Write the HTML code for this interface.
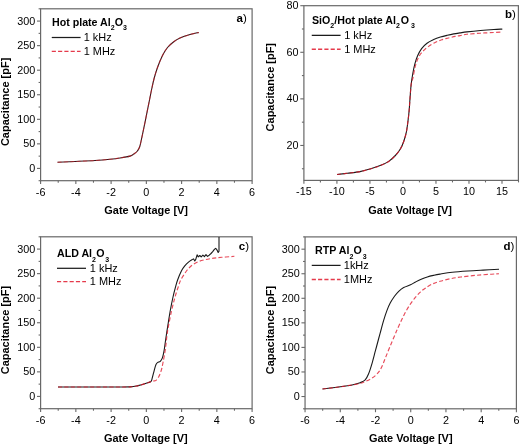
<!DOCTYPE html>
<html><head><meta charset="utf-8"><title>C-V curves</title>
<style>
html,body{margin:0;padding:0;background:#fff;}
svg{display:block;font-family:"Liberation Sans", sans-serif;fill:#000;}
</style></head><body>
<svg width="520" height="445" viewBox="0 0 520 445">
<rect width="520" height="445" fill="#fff"/>
<rect x="40.6" y="8.8" width="211.5" height="171.89999999999998" fill="none" stroke="#686868" stroke-width="1.2"/>
<line x1="40.60" y1="180.70" x2="40.60" y2="184.10" stroke="#686868" stroke-width="1.1"/>
<text x="40.60" y="195.70" font-size="10.8" text-anchor="middle">-6</text>
<line x1="75.85" y1="180.70" x2="75.85" y2="184.10" stroke="#686868" stroke-width="1.1"/>
<text x="75.85" y="195.70" font-size="10.8" text-anchor="middle">-4</text>
<line x1="111.10" y1="180.70" x2="111.10" y2="184.10" stroke="#686868" stroke-width="1.1"/>
<text x="111.10" y="195.70" font-size="10.8" text-anchor="middle">-2</text>
<line x1="146.35" y1="180.70" x2="146.35" y2="184.10" stroke="#686868" stroke-width="1.1"/>
<text x="146.35" y="195.70" font-size="10.8" text-anchor="middle">0</text>
<line x1="181.60" y1="180.70" x2="181.60" y2="184.10" stroke="#686868" stroke-width="1.1"/>
<text x="181.60" y="195.70" font-size="10.8" text-anchor="middle">2</text>
<line x1="216.85" y1="180.70" x2="216.85" y2="184.10" stroke="#686868" stroke-width="1.1"/>
<text x="216.85" y="195.70" font-size="10.8" text-anchor="middle">4</text>
<line x1="252.10" y1="180.70" x2="252.10" y2="184.10" stroke="#686868" stroke-width="1.1"/>
<text x="252.10" y="195.70" font-size="10.8" text-anchor="middle">6</text>
<line x1="58.22" y1="180.70" x2="58.22" y2="182.70" stroke="#686868" stroke-width="1.1"/>
<line x1="93.47" y1="180.70" x2="93.47" y2="182.70" stroke="#686868" stroke-width="1.1"/>
<line x1="128.72" y1="180.70" x2="128.72" y2="182.70" stroke="#686868" stroke-width="1.1"/>
<line x1="163.97" y1="180.70" x2="163.97" y2="182.70" stroke="#686868" stroke-width="1.1"/>
<line x1="199.22" y1="180.70" x2="199.22" y2="182.70" stroke="#686868" stroke-width="1.1"/>
<line x1="234.47" y1="180.70" x2="234.47" y2="182.70" stroke="#686868" stroke-width="1.1"/>
<line x1="37.00" y1="168.42" x2="40.60" y2="168.42" stroke="#686868" stroke-width="1.1"/>
<text x="35.20" y="171.92" font-size="10.8" text-anchor="end">0</text>
<line x1="37.00" y1="143.86" x2="40.60" y2="143.86" stroke="#686868" stroke-width="1.1"/>
<text x="35.20" y="147.36" font-size="10.8" text-anchor="end">50</text>
<line x1="37.00" y1="119.31" x2="40.60" y2="119.31" stroke="#686868" stroke-width="1.1"/>
<text x="35.20" y="122.81" font-size="10.8" text-anchor="end">100</text>
<line x1="37.00" y1="94.75" x2="40.60" y2="94.75" stroke="#686868" stroke-width="1.1"/>
<text x="35.20" y="98.25" font-size="10.8" text-anchor="end">150</text>
<line x1="37.00" y1="70.19" x2="40.60" y2="70.19" stroke="#686868" stroke-width="1.1"/>
<text x="35.20" y="73.69" font-size="10.8" text-anchor="end">200</text>
<line x1="37.00" y1="45.64" x2="40.60" y2="45.64" stroke="#686868" stroke-width="1.1"/>
<text x="35.20" y="49.14" font-size="10.8" text-anchor="end">250</text>
<line x1="37.00" y1="21.08" x2="40.60" y2="21.08" stroke="#686868" stroke-width="1.1"/>
<text x="35.20" y="24.58" font-size="10.8" text-anchor="end">300</text>
<line x1="38.60" y1="180.70" x2="40.60" y2="180.70" stroke="#686868" stroke-width="1.1"/>
<line x1="38.60" y1="156.14" x2="40.60" y2="156.14" stroke="#686868" stroke-width="1.1"/>
<line x1="38.60" y1="131.59" x2="40.60" y2="131.59" stroke="#686868" stroke-width="1.1"/>
<line x1="38.60" y1="107.03" x2="40.60" y2="107.03" stroke="#686868" stroke-width="1.1"/>
<line x1="38.60" y1="82.47" x2="40.60" y2="82.47" stroke="#686868" stroke-width="1.1"/>
<line x1="38.60" y1="57.91" x2="40.60" y2="57.91" stroke="#686868" stroke-width="1.1"/>
<line x1="38.60" y1="33.36" x2="40.60" y2="33.36" stroke="#686868" stroke-width="1.1"/>
<line x1="38.60" y1="8.80" x2="40.60" y2="8.80" stroke="#686868" stroke-width="1.1"/>
<text x="146.15" y="213.60" font-size="10.95" text-anchor="middle" font-weight="bold">Gate Voltage [V]</text>
<text transform="translate(9.2,101.9) rotate(-90)" font-size="10.98" font-weight="bold" text-anchor="middle">Capacitance [pF]</text>
<text x="236.60" y="21.60" font-size="11.5" text-anchor="start" font-weight="bold">a<tspan font-weight="normal">)</tspan></text>
<text x="52" y="26.1" font-size="10.65" font-weight="bold">Hot plate Al<tspan font-size="7" dy="4.3">2</tspan><tspan dy="-4.3">O</tspan><tspan font-size="7" dy="4.3">3</tspan></text>
<line x1="51.75" y1="37.50" x2="80.60" y2="37.50" stroke="#1c1c1c" stroke-width="1.25"/>
<line x1="51.75" y1="51.3" x2="80.6" y2="51.3" stroke="#e0182c" stroke-width="1.35" stroke-dasharray="4.15,2.15" stroke-opacity="0.85"/>
<text x="83.70" y="41.10" font-size="10.95" text-anchor="start">1 kHz</text>
<text x="83.70" y="54.90" font-size="10.95" text-anchor="start">1 MHz</text>
<path d="M57.50,162.25 C60.42,162.12 68.75,161.79 75.00,161.50 C81.25,161.21 89.17,160.88 95.00,160.50 C100.83,160.12 105.83,159.67 110.00,159.25 C114.17,158.83 116.67,158.53 120.00,158.00 C123.33,157.47 127.73,156.75 130.00,156.10 C132.27,155.45 132.43,154.87 133.60,154.10 C134.77,153.33 136.02,152.63 137.00,151.50 C137.98,150.37 138.80,149.13 139.50,147.30 C140.20,145.47 140.50,143.60 141.20,140.50 C141.90,137.40 142.72,133.47 143.70,128.70 C144.68,123.93 146.13,116.68 147.10,111.90 C148.07,107.12 148.73,103.82 149.50,100.00 C150.27,96.18 150.93,92.58 151.70,89.00 C152.47,85.42 153.13,82.08 154.10,78.50 C155.07,74.92 156.10,71.33 157.50,67.50 C158.90,63.67 160.83,58.83 162.50,55.50 C164.17,52.17 165.62,49.79 167.50,47.50 C169.38,45.21 171.67,43.33 173.75,41.75 C175.83,40.17 177.29,39.21 180.00,38.00 C182.71,36.79 186.88,35.42 190.00,34.50 C193.12,33.58 197.29,32.83 198.75,32.50" fill="none" stroke="#3a1418" stroke-width="1.1"/>
<path d="M57.50,162.25 C60.42,162.12 68.75,161.79 75.00,161.50 C81.25,161.21 89.17,160.88 95.00,160.50 C100.83,160.12 105.83,159.67 110.00,159.25 C114.17,158.83 116.67,158.53 120.00,158.00 C123.33,157.47 127.73,156.75 130.00,156.10 C132.27,155.45 132.43,154.87 133.60,154.10 C134.77,153.33 136.02,152.63 137.00,151.50 C137.98,150.37 138.80,149.13 139.50,147.30 C140.20,145.47 140.50,143.60 141.20,140.50 C141.90,137.40 142.72,133.47 143.70,128.70 C144.68,123.93 146.13,116.68 147.10,111.90 C148.07,107.12 148.73,103.82 149.50,100.00 C150.27,96.18 150.93,92.58 151.70,89.00 C152.47,85.42 153.13,82.08 154.10,78.50 C155.07,74.92 156.10,71.33 157.50,67.50 C158.90,63.67 160.83,58.83 162.50,55.50 C164.17,52.17 165.62,49.79 167.50,47.50 C169.38,45.21 171.67,43.33 173.75,41.75 C175.83,40.17 177.29,39.21 180.00,38.00 C182.71,36.79 186.88,35.42 190.00,34.50 C193.12,33.58 197.29,32.83 198.75,32.50" fill="none" stroke="#e0202a" stroke-width="1.1" stroke-dasharray="4.1,2.3" stroke-opacity="0.5"/>
<rect x="303.9" y="5.7" width="214.5" height="174.70000000000002" fill="none" stroke="#686868" stroke-width="1.2"/>
<line x1="303.90" y1="180.40" x2="303.90" y2="183.80" stroke="#686868" stroke-width="1.1"/>
<text x="303.90" y="195.40" font-size="10.8" text-anchor="middle">-15</text>
<line x1="336.92" y1="180.40" x2="336.92" y2="183.80" stroke="#686868" stroke-width="1.1"/>
<text x="336.92" y="195.40" font-size="10.8" text-anchor="middle">-10</text>
<line x1="369.93" y1="180.40" x2="369.93" y2="183.80" stroke="#686868" stroke-width="1.1"/>
<text x="369.93" y="195.40" font-size="10.8" text-anchor="middle">-5</text>
<line x1="402.95" y1="180.40" x2="402.95" y2="183.80" stroke="#686868" stroke-width="1.1"/>
<text x="402.95" y="195.40" font-size="10.8" text-anchor="middle">0</text>
<line x1="435.97" y1="180.40" x2="435.97" y2="183.80" stroke="#686868" stroke-width="1.1"/>
<text x="435.97" y="195.40" font-size="10.8" text-anchor="middle">5</text>
<line x1="468.98" y1="180.40" x2="468.98" y2="183.80" stroke="#686868" stroke-width="1.1"/>
<text x="468.98" y="195.40" font-size="10.8" text-anchor="middle">10</text>
<line x1="502.00" y1="180.40" x2="502.00" y2="183.80" stroke="#686868" stroke-width="1.1"/>
<text x="502.00" y="195.40" font-size="10.8" text-anchor="middle">15</text>
<line x1="320.41" y1="180.40" x2="320.41" y2="182.40" stroke="#686868" stroke-width="1.1"/>
<line x1="353.42" y1="180.40" x2="353.42" y2="182.40" stroke="#686868" stroke-width="1.1"/>
<line x1="386.44" y1="180.40" x2="386.44" y2="182.40" stroke="#686868" stroke-width="1.1"/>
<line x1="419.46" y1="180.40" x2="419.46" y2="182.40" stroke="#686868" stroke-width="1.1"/>
<line x1="452.48" y1="180.40" x2="452.48" y2="182.40" stroke="#686868" stroke-width="1.1"/>
<line x1="485.49" y1="180.40" x2="485.49" y2="182.40" stroke="#686868" stroke-width="1.1"/>
<line x1="518.51" y1="180.40" x2="518.51" y2="182.40" stroke="#686868" stroke-width="1.1"/>
<line x1="300.30" y1="145.46" x2="303.90" y2="145.46" stroke="#686868" stroke-width="1.1"/>
<text x="298.50" y="148.96" font-size="10.8" text-anchor="end">20</text>
<line x1="300.30" y1="98.87" x2="303.90" y2="98.87" stroke="#686868" stroke-width="1.1"/>
<text x="298.50" y="102.37" font-size="10.8" text-anchor="end">40</text>
<line x1="300.30" y1="52.29" x2="303.90" y2="52.29" stroke="#686868" stroke-width="1.1"/>
<text x="298.50" y="55.79" font-size="10.8" text-anchor="end">60</text>
<line x1="300.30" y1="5.70" x2="303.90" y2="5.70" stroke="#686868" stroke-width="1.1"/>
<text x="298.50" y="9.20" font-size="10.8" text-anchor="end">80</text>
<line x1="301.90" y1="168.75" x2="303.90" y2="168.75" stroke="#686868" stroke-width="1.1"/>
<line x1="301.90" y1="122.17" x2="303.90" y2="122.17" stroke="#686868" stroke-width="1.1"/>
<line x1="301.90" y1="75.58" x2="303.90" y2="75.58" stroke="#686868" stroke-width="1.1"/>
<line x1="301.90" y1="28.99" x2="303.90" y2="28.99" stroke="#686868" stroke-width="1.1"/>
<text x="410.15" y="213.60" font-size="10.95" text-anchor="middle" font-weight="bold">Gate Voltage [V]</text>
<text transform="translate(273.8,87.2) rotate(-90)" font-size="10.98" font-weight="bold" text-anchor="middle">Capacitance [pF]</text>
<text x="505.00" y="18.40" font-size="11.5" text-anchor="start" font-weight="bold">b<tspan font-weight="normal">)</tspan></text>
<text x="312" y="23.8" font-size="10.65" font-weight="bold">SiO<tspan font-size="7" dy="4.3">2</tspan><tspan dy="-4.3">/Hot plate Al</tspan><tspan font-size="7" dy="4.3">2</tspan><tspan dy="-4.3" dx="0.9">O</tspan><tspan font-size="7" dy="4.3" dx="1.9">3</tspan></text>
<line x1="311.75" y1="35.35" x2="340.60" y2="35.35" stroke="#1c1c1c" stroke-width="1.25"/>
<line x1="311.75" y1="49.2" x2="340.6" y2="49.2" stroke="#e0182c" stroke-width="1.35" stroke-dasharray="4.15,2.15" stroke-opacity="0.85"/>
<text x="344.20" y="38.95" font-size="10.95" text-anchor="start">1 kHz</text>
<text x="344.20" y="52.80" font-size="10.95" text-anchor="start">1 MHz</text>
<path d="M337.00,174.50 C338.75,174.29 343.67,173.73 347.50,173.25 C351.33,172.77 356.23,172.31 360.00,171.60 C363.77,170.89 366.73,170.00 370.10,169.00 C373.47,168.00 377.10,166.87 380.20,165.60 C383.30,164.33 386.17,163.08 388.70,161.40 C391.23,159.72 393.43,157.60 395.40,155.50 C397.37,153.40 399.10,151.18 400.50,148.80 C401.90,146.42 402.82,144.02 403.80,141.20 C404.78,138.38 405.68,135.42 406.40,131.90 C407.12,128.38 407.63,123.75 408.10,120.10 C408.57,116.45 408.90,113.35 409.20,110.00 C409.50,106.65 409.58,104.17 409.90,100.00 C410.22,95.83 410.62,89.42 411.10,85.00 C411.58,80.58 412.18,76.98 412.80,73.50 C413.42,70.02 414.02,67.02 414.80,64.10 C415.58,61.18 416.37,58.58 417.50,56.00 C418.63,53.42 420.02,50.73 421.60,48.60 C423.18,46.47 424.98,44.70 427.00,43.20 C429.02,41.70 431.47,40.62 433.70,39.60 C435.93,38.58 438.15,37.82 440.40,37.10 C442.65,36.38 444.98,35.83 447.20,35.30 C449.42,34.77 451.57,34.30 453.70,33.90 C455.83,33.50 457.80,33.23 460.00,32.90 C462.20,32.57 463.50,32.30 466.90,31.90 C470.30,31.50 475.92,30.90 480.40,30.50 C484.88,30.10 490.15,29.73 493.80,29.50 C497.45,29.27 500.88,29.17 502.30,29.10" fill="none" stroke="#1a1a1a" stroke-width="1.1"/>
<path d="M337.00,174.50 C338.75,174.29 343.67,173.73 347.50,173.25 C351.33,172.77 356.23,172.31 360.00,171.60 C363.77,170.89 366.73,170.00 370.10,169.00 C373.47,168.00 377.10,166.87 380.20,165.60 C383.30,164.33 386.17,163.08 388.70,161.40 C391.23,159.72 393.43,157.60 395.40,155.50 C397.37,153.40 399.10,151.18 400.50,148.80 C401.90,146.42 402.82,144.02 403.80,141.20 C404.78,138.38 405.68,135.42 406.40,131.90 C407.12,128.38 407.63,123.75 408.10,120.10 C408.57,116.45 408.90,113.35 409.20,110.00 C409.50,106.65 409.58,104.17 409.90,100.00 C410.22,95.83 410.60,88.67 411.10,85.00 C411.60,81.33 412.17,81.27 412.90,78.00 C413.63,74.73 414.50,68.95 415.50,65.40 C416.50,61.85 417.67,59.05 418.90,56.70 C420.13,54.35 421.33,52.98 422.90,51.30 C424.47,49.62 426.27,48.07 428.30,46.60 C430.33,45.13 432.85,43.63 435.10,42.50 C437.35,41.37 439.57,40.55 441.80,39.80 C444.03,39.05 446.25,38.57 448.50,38.00 C450.75,37.43 453.38,36.80 455.30,36.40 C457.22,36.00 458.07,35.95 460.00,35.60 C461.93,35.25 463.50,34.70 466.90,34.30 C470.30,33.90 475.92,33.50 480.40,33.20 C484.88,32.90 490.15,32.68 493.80,32.50 C497.45,32.32 500.88,32.17 502.30,32.10" fill="none" stroke="#e0182c" stroke-width="1.15" stroke-dasharray="4.1,2.3" stroke-opacity="0.78"/>
<rect x="40.6" y="236.8" width="211.5" height="171.89999999999998" fill="none" stroke="#686868" stroke-width="1.2"/>
<line x1="40.60" y1="408.70" x2="40.60" y2="412.10" stroke="#686868" stroke-width="1.1"/>
<text x="40.60" y="423.70" font-size="10.8" text-anchor="middle">-6</text>
<line x1="75.85" y1="408.70" x2="75.85" y2="412.10" stroke="#686868" stroke-width="1.1"/>
<text x="75.85" y="423.70" font-size="10.8" text-anchor="middle">-4</text>
<line x1="111.10" y1="408.70" x2="111.10" y2="412.10" stroke="#686868" stroke-width="1.1"/>
<text x="111.10" y="423.70" font-size="10.8" text-anchor="middle">-2</text>
<line x1="146.35" y1="408.70" x2="146.35" y2="412.10" stroke="#686868" stroke-width="1.1"/>
<text x="146.35" y="423.70" font-size="10.8" text-anchor="middle">0</text>
<line x1="181.60" y1="408.70" x2="181.60" y2="412.10" stroke="#686868" stroke-width="1.1"/>
<text x="181.60" y="423.70" font-size="10.8" text-anchor="middle">2</text>
<line x1="216.85" y1="408.70" x2="216.85" y2="412.10" stroke="#686868" stroke-width="1.1"/>
<text x="216.85" y="423.70" font-size="10.8" text-anchor="middle">4</text>
<line x1="252.10" y1="408.70" x2="252.10" y2="412.10" stroke="#686868" stroke-width="1.1"/>
<text x="252.10" y="423.70" font-size="10.8" text-anchor="middle">6</text>
<line x1="58.22" y1="408.70" x2="58.22" y2="410.70" stroke="#686868" stroke-width="1.1"/>
<line x1="93.47" y1="408.70" x2="93.47" y2="410.70" stroke="#686868" stroke-width="1.1"/>
<line x1="128.72" y1="408.70" x2="128.72" y2="410.70" stroke="#686868" stroke-width="1.1"/>
<line x1="163.97" y1="408.70" x2="163.97" y2="410.70" stroke="#686868" stroke-width="1.1"/>
<line x1="199.22" y1="408.70" x2="199.22" y2="410.70" stroke="#686868" stroke-width="1.1"/>
<line x1="234.47" y1="408.70" x2="234.47" y2="410.70" stroke="#686868" stroke-width="1.1"/>
<line x1="37.00" y1="396.42" x2="40.60" y2="396.42" stroke="#686868" stroke-width="1.1"/>
<text x="35.20" y="399.92" font-size="10.8" text-anchor="end">0</text>
<line x1="37.00" y1="371.86" x2="40.60" y2="371.86" stroke="#686868" stroke-width="1.1"/>
<text x="35.20" y="375.36" font-size="10.8" text-anchor="end">50</text>
<line x1="37.00" y1="347.31" x2="40.60" y2="347.31" stroke="#686868" stroke-width="1.1"/>
<text x="35.20" y="350.81" font-size="10.8" text-anchor="end">100</text>
<line x1="37.00" y1="322.75" x2="40.60" y2="322.75" stroke="#686868" stroke-width="1.1"/>
<text x="35.20" y="326.25" font-size="10.8" text-anchor="end">150</text>
<line x1="37.00" y1="298.19" x2="40.60" y2="298.19" stroke="#686868" stroke-width="1.1"/>
<text x="35.20" y="301.69" font-size="10.8" text-anchor="end">200</text>
<line x1="37.00" y1="273.64" x2="40.60" y2="273.64" stroke="#686868" stroke-width="1.1"/>
<text x="35.20" y="277.14" font-size="10.8" text-anchor="end">250</text>
<line x1="37.00" y1="249.08" x2="40.60" y2="249.08" stroke="#686868" stroke-width="1.1"/>
<text x="35.20" y="252.58" font-size="10.8" text-anchor="end">300</text>
<line x1="38.60" y1="408.70" x2="40.60" y2="408.70" stroke="#686868" stroke-width="1.1"/>
<line x1="38.60" y1="384.14" x2="40.60" y2="384.14" stroke="#686868" stroke-width="1.1"/>
<line x1="38.60" y1="359.59" x2="40.60" y2="359.59" stroke="#686868" stroke-width="1.1"/>
<line x1="38.60" y1="335.03" x2="40.60" y2="335.03" stroke="#686868" stroke-width="1.1"/>
<line x1="38.60" y1="310.47" x2="40.60" y2="310.47" stroke="#686868" stroke-width="1.1"/>
<line x1="38.60" y1="285.91" x2="40.60" y2="285.91" stroke="#686868" stroke-width="1.1"/>
<line x1="38.60" y1="261.36" x2="40.60" y2="261.36" stroke="#686868" stroke-width="1.1"/>
<line x1="38.60" y1="236.80" x2="40.60" y2="236.80" stroke="#686868" stroke-width="1.1"/>
<text x="145.85" y="441.60" font-size="10.95" text-anchor="middle" font-weight="bold">Gate Voltage [V]</text>
<text transform="translate(9.2,330.1) rotate(-90)" font-size="10.98" font-weight="bold" text-anchor="middle">Capacitance [pF]</text>
<text x="238.80" y="250.30" font-size="11.5" text-anchor="start" font-weight="bold">c<tspan font-weight="normal">)</tspan></text>
<text x="57" y="257.3" font-size="10.65" font-weight="bold">ALD Al<tspan font-size="7" dy="4.3">2</tspan><tspan dy="-4.3" dx="0.3">O</tspan><tspan font-size="7" dy="4.3" dx="0.8">3</tspan></text>
<line x1="57.00" y1="268.30" x2="86.00" y2="268.30" stroke="#1c1c1c" stroke-width="1.25"/>
<line x1="57" y1="281.6" x2="86" y2="281.6" stroke="#e0182c" stroke-width="1.35" stroke-dasharray="4.15,2.15" stroke-opacity="0.85"/>
<text x="89.80" y="271.90" font-size="10.95" text-anchor="start">1 kHz</text>
<text x="89.80" y="285.20" font-size="10.95" text-anchor="start">1 MHz</text>
<path d="M58.00,387.00 C66.67,387.00 98.00,387.02 110.00,387.00 C122.00,386.98 125.32,387.13 130.00,386.90 C134.68,386.67 135.40,386.20 138.10,385.60 C140.80,385.00 144.07,383.98 146.20,383.30 C148.33,382.62 149.90,382.37 150.90,381.50 C151.90,380.63 151.63,380.00 152.20,378.10 C152.77,376.20 153.68,372.33 154.30,370.10 C154.92,367.87 155.35,365.95 155.90,364.70 C156.45,363.45 156.87,363.17 157.60,362.60 C158.33,362.03 159.50,362.08 160.30,361.30 C161.10,360.52 161.78,359.58 162.40,357.90 C163.02,356.22 163.50,353.93 164.00,351.20 C164.50,348.47 164.98,344.37 165.40,341.50 C165.82,338.63 166.13,336.42 166.50,334.00 C166.87,331.58 166.98,330.83 167.60,327.00 C168.22,323.17 169.32,315.92 170.20,311.00 C171.08,306.08 172.00,301.55 172.90,297.50 C173.80,293.45 174.82,289.62 175.60,286.70 C176.38,283.78 176.62,282.65 177.60,280.00 C178.58,277.35 180.27,273.20 181.50,270.80 C182.73,268.40 183.83,267.05 185.00,265.60 C186.17,264.15 187.35,263.07 188.50,262.10 C189.65,261.13 191.04,260.33 191.90,259.80 C192.76,259.27 193.36,259.05 193.65,258.90 L193.65,258.90 L194.80,261.00 L195.60,259.80 L197.10,254.85 L198.30,256.90 L199.80,255.50 L201.20,256.90 L202.90,255.20 L204.40,256.70 L206.00,254.60 L207.50,256.35 L209.20,255.20 L211.00,253.50 L212.70,251.70 L214.40,249.40 L215.60,248.30 L216.70,249.40 L218.20,252.50 L219.00,251.20 L219.00,237.00" fill="none" stroke="#1a1a1a" stroke-width="1.1" stroke-linejoin="round"/>
<path d="M58.00,387.00 C66.67,387.00 98.00,387.02 110.00,387.00 C122.00,386.98 125.32,387.13 130.00,386.90 C134.68,386.67 135.40,386.20 138.10,385.60 C140.80,385.00 144.07,383.97 146.20,383.30 C148.33,382.63 149.68,381.98 150.90,381.60 C152.12,381.22 152.65,381.20 153.50,381.00 C154.35,380.80 155.15,381.07 156.00,380.40 C156.85,379.73 157.87,378.23 158.60,377.00 C159.33,375.77 159.85,374.50 160.40,373.00 C160.95,371.50 161.45,369.83 161.90,368.00 C162.35,366.17 162.62,364.50 163.10,362.00 C163.58,359.50 164.33,355.83 164.80,353.00 C165.27,350.17 165.55,347.83 165.90,345.00 C166.25,342.17 166.50,339.00 166.90,336.00 C167.30,333.00 167.53,331.17 168.30,327.00 C169.07,322.83 170.40,315.92 171.50,311.00 C172.60,306.08 173.77,301.55 174.90,297.50 C176.03,293.45 177.33,289.62 178.30,286.70 C179.27,283.78 179.58,282.27 180.70,280.00 C181.82,277.73 183.70,275.02 185.00,273.10 C186.30,271.18 187.15,269.95 188.50,268.50 C189.85,267.05 191.38,265.57 193.10,264.40 C194.82,263.23 196.88,262.27 198.80,261.50 C200.72,260.73 202.67,260.28 204.60,259.80 C206.53,259.32 208.47,258.97 210.40,258.65 C212.33,258.32 214.28,258.08 216.20,257.85 C218.12,257.62 219.60,257.49 221.90,257.30 C224.20,257.11 227.92,256.87 230.00,256.70 C232.08,256.53 233.67,256.37 234.40,256.30" fill="none" stroke="#e0182c" stroke-width="1.15" stroke-dasharray="4.1,2.3" stroke-opacity="0.78"/>
<rect x="305.05" y="236.9" width="211.34999999999997" height="171.9" fill="none" stroke="#686868" stroke-width="1.2"/>
<line x1="305.05" y1="408.80" x2="305.05" y2="412.20" stroke="#686868" stroke-width="1.1"/>
<text x="305.05" y="423.80" font-size="10.8" text-anchor="middle">-6</text>
<line x1="340.28" y1="408.80" x2="340.28" y2="412.20" stroke="#686868" stroke-width="1.1"/>
<text x="340.28" y="423.80" font-size="10.8" text-anchor="middle">-4</text>
<line x1="375.50" y1="408.80" x2="375.50" y2="412.20" stroke="#686868" stroke-width="1.1"/>
<text x="375.50" y="423.80" font-size="10.8" text-anchor="middle">-2</text>
<line x1="410.73" y1="408.80" x2="410.73" y2="412.20" stroke="#686868" stroke-width="1.1"/>
<text x="410.73" y="423.80" font-size="10.8" text-anchor="middle">0</text>
<line x1="445.95" y1="408.80" x2="445.95" y2="412.20" stroke="#686868" stroke-width="1.1"/>
<text x="445.95" y="423.80" font-size="10.8" text-anchor="middle">2</text>
<line x1="481.18" y1="408.80" x2="481.18" y2="412.20" stroke="#686868" stroke-width="1.1"/>
<text x="481.18" y="423.80" font-size="10.8" text-anchor="middle">4</text>
<line x1="516.40" y1="408.80" x2="516.40" y2="412.20" stroke="#686868" stroke-width="1.1"/>
<text x="516.40" y="423.80" font-size="10.8" text-anchor="middle">6</text>
<line x1="322.66" y1="408.80" x2="322.66" y2="410.80" stroke="#686868" stroke-width="1.1"/>
<line x1="357.89" y1="408.80" x2="357.89" y2="410.80" stroke="#686868" stroke-width="1.1"/>
<line x1="393.11" y1="408.80" x2="393.11" y2="410.80" stroke="#686868" stroke-width="1.1"/>
<line x1="428.34" y1="408.80" x2="428.34" y2="410.80" stroke="#686868" stroke-width="1.1"/>
<line x1="463.56" y1="408.80" x2="463.56" y2="410.80" stroke="#686868" stroke-width="1.1"/>
<line x1="498.79" y1="408.80" x2="498.79" y2="410.80" stroke="#686868" stroke-width="1.1"/>
<line x1="301.45" y1="396.52" x2="305.05" y2="396.52" stroke="#686868" stroke-width="1.1"/>
<text x="299.65" y="400.02" font-size="10.8" text-anchor="end">0</text>
<line x1="301.45" y1="371.96" x2="305.05" y2="371.96" stroke="#686868" stroke-width="1.1"/>
<text x="299.65" y="375.46" font-size="10.8" text-anchor="end">50</text>
<line x1="301.45" y1="347.41" x2="305.05" y2="347.41" stroke="#686868" stroke-width="1.1"/>
<text x="299.65" y="350.91" font-size="10.8" text-anchor="end">100</text>
<line x1="301.45" y1="322.85" x2="305.05" y2="322.85" stroke="#686868" stroke-width="1.1"/>
<text x="299.65" y="326.35" font-size="10.8" text-anchor="end">150</text>
<line x1="301.45" y1="298.29" x2="305.05" y2="298.29" stroke="#686868" stroke-width="1.1"/>
<text x="299.65" y="301.79" font-size="10.8" text-anchor="end">200</text>
<line x1="301.45" y1="273.74" x2="305.05" y2="273.74" stroke="#686868" stroke-width="1.1"/>
<text x="299.65" y="277.24" font-size="10.8" text-anchor="end">250</text>
<line x1="301.45" y1="249.18" x2="305.05" y2="249.18" stroke="#686868" stroke-width="1.1"/>
<text x="299.65" y="252.68" font-size="10.8" text-anchor="end">300</text>
<line x1="303.05" y1="408.80" x2="305.05" y2="408.80" stroke="#686868" stroke-width="1.1"/>
<line x1="303.05" y1="384.24" x2="305.05" y2="384.24" stroke="#686868" stroke-width="1.1"/>
<line x1="303.05" y1="359.69" x2="305.05" y2="359.69" stroke="#686868" stroke-width="1.1"/>
<line x1="303.05" y1="335.13" x2="305.05" y2="335.13" stroke="#686868" stroke-width="1.1"/>
<line x1="303.05" y1="310.57" x2="305.05" y2="310.57" stroke="#686868" stroke-width="1.1"/>
<line x1="303.05" y1="286.01" x2="305.05" y2="286.01" stroke="#686868" stroke-width="1.1"/>
<line x1="303.05" y1="261.46" x2="305.05" y2="261.46" stroke="#686868" stroke-width="1.1"/>
<line x1="303.05" y1="236.90" x2="305.05" y2="236.90" stroke="#686868" stroke-width="1.1"/>
<text x="410.73" y="441.60" font-size="10.95" text-anchor="middle" font-weight="bold">Gate Voltage [V]</text>
<text transform="translate(274,330.1) rotate(-90)" font-size="10.98" font-weight="bold" text-anchor="middle">Capacitance [pF]</text>
<text x="503.50" y="250.00" font-size="11.5" text-anchor="start" font-weight="bold">d<tspan font-weight="normal">)</tspan></text>
<text x="315.1" y="254.3" font-size="10.65" font-weight="bold">RTP Al<tspan font-size="7" dy="4.3">2</tspan><tspan dy="-4.3" dx="0.3">O</tspan><tspan font-size="7" dy="4.3" dx="0.8">3</tspan></text>
<line x1="311.75" y1="265.40" x2="340.60" y2="265.40" stroke="#1c1c1c" stroke-width="1.25"/>
<line x1="311.75" y1="279.5" x2="340.6" y2="279.5" stroke="#e0182c" stroke-width="1.35" stroke-dasharray="4.15,2.15" stroke-opacity="0.85"/>
<text x="343.80" y="269.00" font-size="10.95" text-anchor="start">1kHz</text>
<text x="343.80" y="283.10" font-size="10.95" text-anchor="start">1MHz</text>
<path d="M322.50,389.00 C324.58,388.75 330.83,388.04 335.00,387.50 C339.17,386.96 344.33,386.25 347.50,385.75 C350.67,385.25 351.90,385.01 354.00,384.50 C356.10,383.99 358.23,383.47 360.10,382.70 C361.97,381.93 363.80,381.35 365.20,379.90 C366.60,378.45 367.38,376.68 368.50,374.00 C369.62,371.32 370.77,367.60 371.90,363.80 C373.03,360.00 374.17,355.42 375.30,351.20 C376.43,346.98 377.75,342.03 378.70,338.50 C379.65,334.97 380.20,332.95 381.00,330.00 C381.80,327.05 382.52,324.03 383.50,320.80 C384.48,317.57 385.78,313.55 386.90,310.60 C388.02,307.65 388.93,305.48 390.20,303.10 C391.47,300.72 393.08,298.27 394.50,296.30 C395.92,294.33 397.17,292.77 398.70,291.30 C400.23,289.83 401.73,288.58 403.70,287.50 C405.67,286.42 408.53,285.72 410.50,284.80 C412.47,283.88 413.82,282.88 415.50,282.00 C417.18,281.12 418.63,280.35 420.60,279.50 C422.57,278.65 425.05,277.62 427.30,276.90 C429.55,276.18 431.98,275.67 434.10,275.20 C436.22,274.73 436.97,274.58 440.00,274.10 C443.03,273.62 447.68,272.82 452.30,272.30 C456.92,271.78 462.57,271.37 467.70,271.00 C472.83,270.63 477.88,270.38 483.10,270.10 C488.32,269.82 496.35,269.43 499.00,269.30" fill="none" stroke="#1a1a1a" stroke-width="1.1"/>
<path d="M322.50,389.00 C324.58,388.75 330.83,388.04 335.00,387.50 C339.17,386.96 343.33,386.43 347.50,385.75 C351.67,385.07 357.05,384.09 360.00,383.40 C362.95,382.71 363.22,382.47 365.20,381.60 C367.18,380.73 369.93,379.47 371.90,378.20 C373.87,376.93 375.45,375.68 377.00,374.00 C378.55,372.32 379.80,370.78 381.20,368.10 C382.60,365.42 383.85,361.70 385.40,357.90 C386.95,354.10 388.82,349.37 390.50,345.30 C392.18,341.23 394.42,336.05 395.50,333.50 C396.58,330.95 396.05,332.12 397.00,330.00 C397.95,327.88 399.80,323.75 401.20,320.80 C402.60,317.85 403.85,315.12 405.40,312.30 C406.95,309.48 408.82,306.42 410.50,303.90 C412.18,301.38 413.82,299.22 415.50,297.20 C417.18,295.18 418.92,293.35 420.60,291.80 C422.28,290.25 423.63,289.20 425.60,287.90 C427.57,286.60 430.00,285.10 432.40,284.00 C434.80,282.90 437.07,282.17 440.00,281.30 C442.93,280.43 446.53,279.52 450.00,278.80 C453.47,278.08 456.43,277.58 460.80,277.00 C465.17,276.42 471.08,275.77 476.20,275.30 C481.32,274.83 487.70,274.45 491.50,274.20 C495.30,273.95 497.75,273.87 499.00,273.80" fill="none" stroke="#e0182c" stroke-width="1.15" stroke-dasharray="4.1,2.3" stroke-opacity="0.78"/>
</svg>
</body></html>
